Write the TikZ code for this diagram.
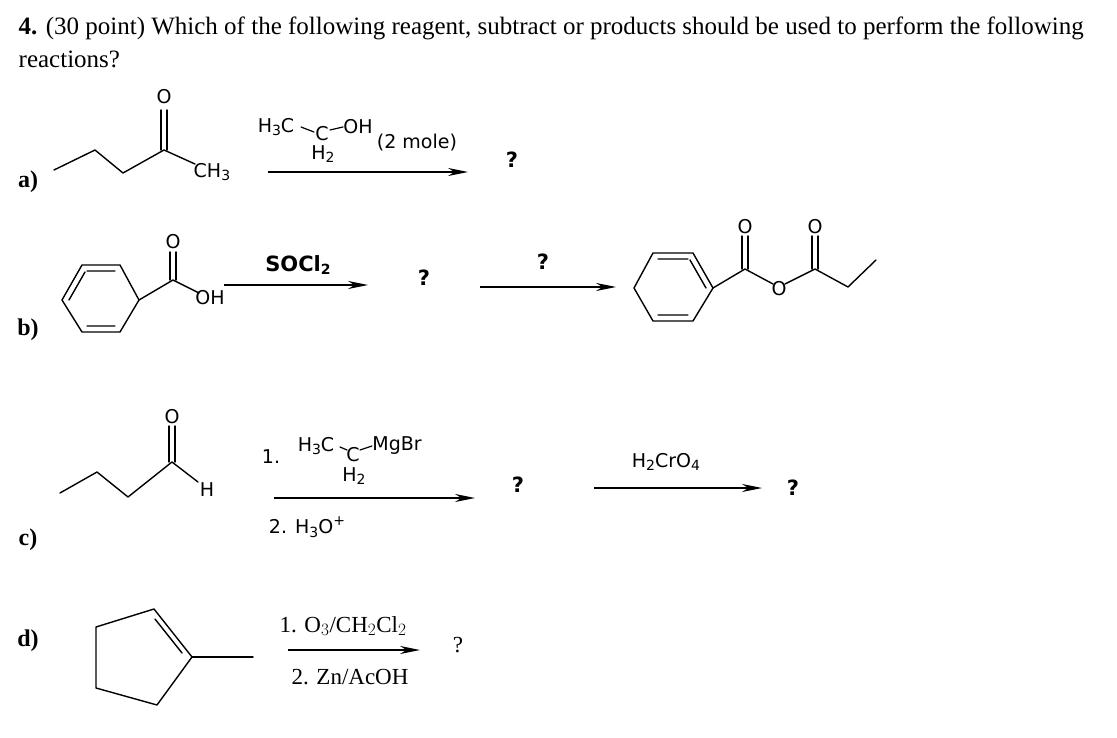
\documentclass[tikz,border=0pt]{standalone}
\usepackage{fontspec}
\setmainfont{Liberation Serif}
\newfontfamily\chemsf{DejaVu Sans}
\usetikzlibrary{arrows.meta}
\newcommand{\chsb}[1]{\raisebox{-0.3ex}{\fontsize{14}{14}\selectfont #1}}
\newcommand{\chsp}[1]{\raisebox{0.8ex}{\fontsize{14}{14}\selectfont #1}}
\begin{document}
\begin{tikzpicture}[x=1pt,y=-1pt,line width=1.4pt,
  bond/.style={line width=1.4pt,line cap=round,line join=round},
  rxn/.style={line width=1.3pt,-{Stealth[length=20pt,width=8pt]}},
  atom/.style={inner sep=0pt,font=\chemsf\fontsize{19}{22}\selectfont},
  lbl/.style={inner sep=0pt,font=\fontsize{24}{28}\selectfont\bfseries},
  qm/.style={inner sep=0pt,font=\chemsf\fontsize{21}{24}\selectfont\bfseries},
  ser/.style={inner sep=0pt,font=\fontsize{25}{28}\selectfont}]
\useasboundingbox (0,0) rectangle (1117,738);
% title
\node[ser,anchor=west] (t1) at (18,28) {\textbf{4.} (30 point) Which of the following reagent, subtract or products should be used to perform the following};
\node[ser,anchor=west] (t2) at (18,59) {reactions?};
\node[lbl] (la) at (28,182) {a)};
\node[lbl] (lb) at (28,330) {b)};
\node[lbl] (lc) at (28,540) {c)};
\node[lbl] (ld) at (28,641) {d)};
% a)
\node[atom] (aO) at (164,97) {O};
\node[atom,anchor=west] (aCH) at (193,172) {CH\chsb{3}};
\draw[bond] (54,170)--(95,150)--(123,173)--(164,150)--(195,164);
\draw[bond] (161,150)--(161,110) (167,150)--(167,110);
\node[atom] (aH3C) at (276,127) {H\chsb{3}C};
\node[atom] (aC) at (322,134) {C};
\node[atom] (aH2) at (323,154) {H\chsb{2}};
\node[atom] (aOH) at (358,127) {OH};
\draw[bond,line width=1.2pt] (301,127)--(314,132) (330,130)--(343,127);
\node[atom] (amol) at (417,143) {(2 mole)};
\draw[rxn] (268,172)--(468,172);
\node[qm] (aq) at (512,160) {?};
% b)
\draw[bond] (82,265)--(120,265)--(139,300)--(120,332)--(82,332)--(62,300)--cycle;
\draw[bond] (87,271)--(115,271) (87,326)--(115,326) (69,300)--(85,272);
\draw[bond] (139,300)--(173,280)--(199,293);
\draw[bond] (170,280)--(170,252) (176,280)--(176,252);
\node[atom] (bO) at (173,242) {O};
\node[atom] (bOH) at (210,298) {OH};
\draw[rxn] (224,285)--(368,285);
\node[qm] (bs) at (298,265) {SOCl\chsb{\bfseries 2}};
\node[qm] (bq1) at (424,278) {?};
\draw[rxn] (480,287)--(616,287);
\node[qm] (bq2) at (543,262) {?};
\draw[bond] (653,253)--(693,253)--(713,288)--(693,321)--(653,321)--(634,288)--cycle;
\draw[bond] (658,259)--(688,259) (658,315)--(688,315) (706,288)--(690,260);
\draw[bond] (713,288)--(745,269)--(773,284) (785,284)--(815,269)--(848,287)--(876,260);
\draw[bond] (742,269)--(742,236) (748,269)--(748,236);
\draw[bond] (812,269)--(812,236) (818,269)--(818,236);
\node[atom] (bO1) at (745,227) {O};
\node[atom] (bO2) at (779,289) {O};
\node[atom] (bO3) at (815,227) {O};
% c)
\draw[bond] (60,493)--(97,472)--(128,497)--(172,462)--(198,482);
\draw[bond] (169,462)--(169,426) (175,462)--(175,426);
\node[atom] (cO) at (172,417) {O};
\node[atom] (cH) at (207,490) {H};
\node[atom] (c1) at (271,457) {1.};
\node[atom] (cH3C) at (316,446) {H\chsb{3}C};
\node[atom] (cC) at (353,455) {C};
\node[atom] (cH2) at (354,476) {H\chsb{2}};
\node[atom] (cMg) at (397,446) {MgBr};
\draw[bond,line width=1.2pt] (340,447)--(347,450) (360,450)--(372,446);
\draw[rxn] (274,498)--(475,498);
\node[atom] (c2) at (307,527) {2. H\chsb{3}O\chsp{+}};
\node[qm] (cq1) at (518,485) {?};
\draw[rxn] (594,488)--(762,488);
\node[atom] (cCr) at (666,462) {H\chsb{2}CrO\chsb{4}};
\node[qm] (cq2) at (793,488) {?};
% d)
\draw[bond] (96,627)--(154,609)--(192,657)--(157,705)--(96,688)--cycle;
\draw[bond] (155,619)--(182,653);
\draw[bond] (192,657)--(253,657);
\node[ser,font=\fontsize{23}{26}\selectfont] (d1) at (343,626) {1. O$_3$/CH$_2$Cl$_2$};
\draw[rxn] (288,650)--(420,650);
\node[ser,font=\fontsize{23}{26}\selectfont] (d2) at (350,677) {2. Zn/AcOH};
\node[ser,font=\fontsize{23}{26}\selectfont] (dq) at (458,645) {?};
\end{tikzpicture}
\end{document}
